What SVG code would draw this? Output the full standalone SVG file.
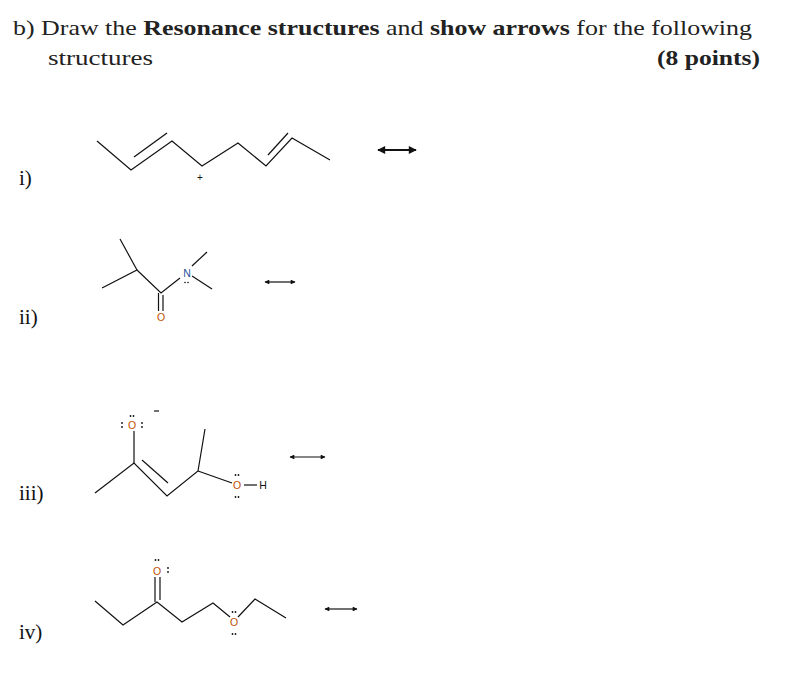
<svg xmlns="http://www.w3.org/2000/svg" width="797" height="675" viewBox="0 0 797 675">
<style>
.t{font-family:"Liberation Serif",serif;font-size:22px;fill:#222}
.b{font-weight:bold}
.l{font-family:"Liberation Serif",serif;font-size:21px;fill:#111}
.bd{fill:none;stroke:#111;stroke-width:1.2}
.at{font-family:"Liberation Sans",sans-serif;font-size:10.5px;fill:#c05000}
.dt{font-family:"Liberation Sans",sans-serif;font-size:10px;fill:#111}
.d{fill:#111}
.ar{stroke:#111;stroke-width:1.2;marker-start:url(#h);marker-end:url(#h)}
</style>
<defs><marker id="h" viewBox="0 0 10 10" refX="9" refY="5" markerWidth="5" markerHeight="4" orient="auto-start-reverse"><path d="M0,0L10,5L0,10z" fill="#111"/></marker></defs>
<rect width="797" height="675" fill="#fff"/>
<g id="header">
<text class="t" x="13" y="35" textLength="739" lengthAdjust="spacingAndGlyphs">b)  Draw the <tspan class="b">Resonance structures</tspan> and <tspan class="b">show arrows</tspan> for the following</text>
<text class="t" x="48" y="65" textLength="105" lengthAdjust="spacingAndGlyphs">structures</text>
<text class="t b" x="657" y="65" textLength="103" lengthAdjust="spacingAndGlyphs">(8 points)</text>
</g>
<g id="labels">
<text class="l" x="19" y="185">i)</text>
<text class="l" x="19" y="324">ii)</text>
<text class="l" x="19" y="500">iii)</text>
<text class="l" x="19" y="639">iv)</text>
</g>
<g id="mol1">
<polyline class="bd" points="97,141 131,170 172,141 202,166 238,143 266,166 292,138 330,160"/>
<line class="bd" x1="134" y1="157" x2="167" y2="133"/>
<line class="bd" x1="268" y1="155" x2="288" y2="133"/>
<text class="dt" x="200" y="181" text-anchor="middle">+</text>
</g>
<g id="mol2">
<polyline class="bd" points="102,288 137,270 161,293 180,278"/>
<line class="bd" x1="137" y1="270" x2="120" y2="239"/>
<line class="bd" x1="158.5" y1="293" x2="158.5" y2="311"/>
<line class="bd" x1="163" y1="295" x2="163" y2="311"/>
<text class="at" x="161" y="321" text-anchor="middle">O</text>
<text class="at" x="187" y="277" text-anchor="middle" style="fill:#1f4fa0">N</text>
<circle class="d" cx="185" cy="282.5" r="0.8"/><circle class="d" cx="188" cy="282.5" r="0.8"/>
<line class="bd" x1="192" y1="266" x2="207" y2="252"/>
<line class="bd" x1="192" y1="276" x2="212" y2="289"/>
</g>
<g id="mol3">
<polyline class="bd" points="95,493 134,463 167,496 198,471 205,429"/>
<line class="bd" x1="142" y1="460" x2="168" y2="483"/>
<line class="bd" x1="134" y1="463" x2="134" y2="431"/>
<line class="bd" x1="198" y1="471" x2="232" y2="483"/>
<text class="at" x="132" y="429" text-anchor="middle">O</text>
<circle class="d" cx="130.5" cy="416" r="0.9"/><circle class="d" cx="133.5" cy="416" r="0.9"/>
<circle class="d" cx="122" cy="423" r="0.9"/><circle class="d" cx="122" cy="427" r="0.9"/>
<circle class="d" cx="142" cy="423" r="0.9"/><circle class="d" cx="142" cy="427" r="0.9"/>
<line class="bd" x1="154" y1="411" x2="159" y2="411"/>
<text class="at" x="237" y="489" text-anchor="middle">O</text>
<circle class="d" cx="235.5" cy="475" r="0.9"/><circle class="d" cx="238.5" cy="475" r="0.9"/>
<circle class="d" cx="235.5" cy="497" r="0.9"/><circle class="d" cx="238.5" cy="497" r="0.9"/>
<line class="bd" x1="244" y1="485" x2="257" y2="485"/>
<text class="at" x="263" y="489" text-anchor="middle" style="fill:#111">H</text>
</g>
<g id="mol4">
<polyline class="bd" points="95,601 123,625 157,602 182,622 213,603 230,617"/>
<polyline class="bd" points="238,617 255,599 286,618"/>
<line class="bd" x1="155" y1="577" x2="155" y2="602"/>
<line class="bd" x1="160" y1="577" x2="160" y2="600"/>
<text class="at" x="157" y="575" text-anchor="middle">O</text>
<circle class="d" cx="155.5" cy="560" r="0.9"/><circle class="d" cx="158.5" cy="560" r="0.9"/>
<circle class="d" cx="168" cy="568" r="0.9"/><circle class="d" cx="168" cy="572" r="0.9"/>
<text class="at" x="234" y="626" text-anchor="middle">O</text>
<circle class="d" cx="232.5" cy="612" r="0.9"/><circle class="d" cx="235.5" cy="612" r="0.9"/>
<circle class="d" cx="232.5" cy="634" r="0.9"/><circle class="d" cx="235.5" cy="634" r="0.9"/>
</g>
<g id="connectors">
<line class="ar" x1="378" y1="150" x2="416" y2="150" style="stroke-width:2"/>
<line class="ar" x1="265" y1="282" x2="295" y2="282"/>
<line class="ar" x1="290" y1="457" x2="325" y2="457"/>
<line class="ar" x1="325" y1="609" x2="357" y2="609"/>
</g>
</svg>
